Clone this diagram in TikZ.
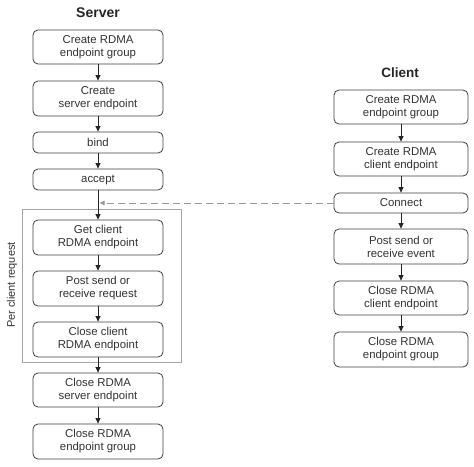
\documentclass[tikz,border=0pt]{standalone}
\usepackage{fontspec}
\setmainfont{Liberation Sans}
\usetikzlibrary{arrows.meta,calc}
\begin{document}
\begin{tikzpicture}[x=1pt,y=-1pt,
  stepbox/.style={draw=black!75,line width=0.8pt,rounded corners=5pt,
    minimum width=#1,inner sep=0pt,align=center,text=black!80,
    font=\fontsize{11.4}{13}\selectfont},
  sbox/.style={stepbox=130pt,minimum height=34pt},
  sthin/.style={stepbox=130pt,minimum height=21pt},
  cbox/.style={stepbox=134pt,minimum height=34pt},
  cthin/.style={stepbox=134pt,minimum height=20pt},
  flow/.style={draw=black!85,line width=0.9pt,-{Triangle[length=5.5pt,width=5pt]}},
  title/.style={font=\fontsize{14}{16}\selectfont\bfseries,text=black!85}
]
\useasboundingbox (0,0) rectangle (474,466);
\fill[white] (0,0) rectangle (474,466);

% group rectangle
\draw[black!35,line width=0.9pt] (22,209) rectangle (181,362);
\node[rotate=90,font=\fontsize{11}{12}\selectfont,text=black!80] (lbl) at (12,285) {Per client request};

% server
\node[title] (st) at (98,13) {Server};
\node[sbox] (s1) at (98,47) {Create RDMA\\endpoint group};
\node[sbox,minimum height=35pt] (s2) at (98,98.5) {Create\\server endpoint};
\node[sthin] (s3) at (98,142.5) {bind};
\node[sthin] (s4) at (98,179.5) {accept};
\node[sbox,minimum height=35pt] (s5) at (98,237.5) {Get client\\RDMA endpoint};
\node[sbox,minimum height=35pt] (s6) at (98,288.5) {Post send or\\receive request};
\node[sbox,minimum height=35pt] (s7) at (98,339.5) {Close client\\RDMA endpoint};
\node[sbox] (s8) at (98,390) {Close RDMA\\server endpoint};
\node[sbox,minimum height=35pt] (s9) at (98,441.5) {Close RDMA\\endpoint group};

% client
\node[title,font=\fontsize{13.5}{16}\selectfont\bfseries] (ct) at (400,73) {Client};
\node[cbox] (c1) at (401,107) {Create RDMA\\endpoint group};
\node[cbox] (c2) at (401,159) {Create RDMA\\client endpoint};
\node[cthin] (c3) at (401,203) {Connect};
\node[cbox,minimum height=35pt] (c4) at (401,246.5) {Post send or\\receive event};
\node[cbox] (c5) at (401,298) {Close RDMA\\client endpoint};
\node[cbox,minimum height=35pt] (c6) at (401,349.5) {Close RDMA\\endpoint group};

% server arrows
\draw[flow] (s1) -- (s2);
\draw[flow] (s2) -- (s3);
\draw[flow] (s3) -- (s4);
\draw[flow] (s4) -- (s5);
\draw[flow] (s5) -- (s6);
\draw[flow] (s6) -- (s7);
\draw[flow] (s7) -- (s8);
\draw[flow] (s8) -- (s9);

% client arrows
\draw[flow] (c1) -- (c2);
\draw[flow] (c2) -- (c3);
\draw[flow] (c3) -- (c4);
\draw[flow] (c4) -- (c5);
\draw[flow] (c5) -- (c6);

% dashed connect
\coordinate (j) at ($(s4.south |- c3.west)+(1.5,0)$);
\draw[black!40,line width=1pt,dash pattern=on 7pt off 4pt,-{Triangle[length=5pt,width=4.5pt]}] (c3.west) -- (j);
\end{tikzpicture}
\end{document}
